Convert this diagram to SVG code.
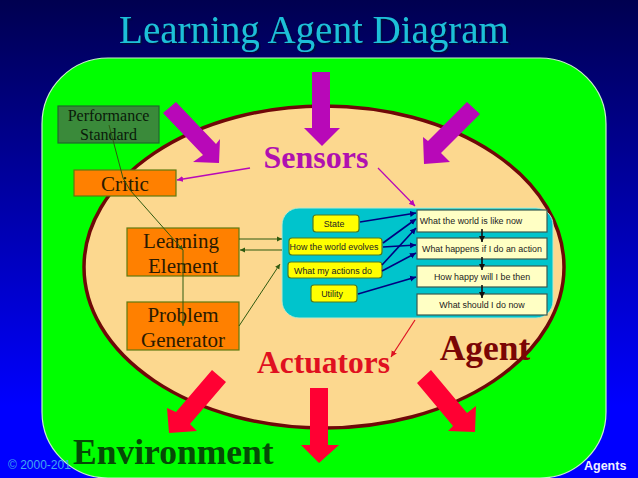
<svg xmlns="http://www.w3.org/2000/svg" width="638" height="478" viewBox="0 0 638 478">
<style>
.s{font-family:"Liberation Serif","Times New Roman",serif}
.a{font-family:"Liberation Sans",Arial,sans-serif}
.o{fill:#ff8000;stroke:#5f7a10;stroke-width:1.2}
.y{fill:#ffff00;stroke:#4f7a20;stroke-width:1.2}
.c{fill:#ffffc4;stroke:#3a5a50;stroke-width:1.2}
.t1{font-size:21px;fill:#2a1a00;text-anchor:middle}
.t2{font-size:8.9px;fill:#222;text-anchor:middle}
.g{fill:none;stroke:#2f5a10;stroke-width:1}
.n{fill:none;stroke:#000080;stroke-width:1.6}
.b{fill:none;stroke:#111;stroke-width:1.6}
.p{fill:#b808b8}
.r{fill:#ff0033}
</style>
<defs>
<linearGradient id="bg" x1="0" y1="0" x2="0" y2="1"><stop offset="0" stop-color="#000050"/><stop offset="0.85" stop-color="#0000ff"/></linearGradient>
<filter id="sh" x="-5%" y="-20%" width="110%" height="140%"><feDropShadow dx="1.500" dy="1.500" stdDeviation="0.600" flood-color="#001030" flood-opacity="0.800"/></filter>
<marker id="mg" markerWidth="6" markerHeight="6" refX="5" refY="3" orient="auto" markerUnits="userSpaceOnUse"><path d="M0,0.5L5,3L0,5.5z" fill="#2f5a10"/></marker>
<marker id="mn" markerWidth="7" markerHeight="7" refX="6" refY="3.5" orient="auto" markerUnits="userSpaceOnUse"><path d="M0,0.5L6,3.5L0,6.5z" fill="#000080"/></marker>
<marker id="mb" markerWidth="7" markerHeight="7" refX="6" refY="3.5" orient="auto" markerUnits="userSpaceOnUse"><path d="M0,0.5L6,3.5L0,6.5z" fill="#111"/></marker>
<marker id="mp" markerWidth="7" markerHeight="7" refX="6" refY="3.5" orient="auto" markerUnits="userSpaceOnUse"><path d="M0,0.5L6,3.5L0,6.5z" fill="#b808b8"/></marker>
<marker id="mr" markerWidth="7" markerHeight="7" refX="6" refY="3.5" orient="auto" markerUnits="userSpaceOnUse"><path d="M0,0.5L6,3.5L0,6.5z" fill="#dd1122"/></marker>
</defs>
<rect width="638" height="478" fill="url(#bg)"/>
<text class="s" x="314" y="42.500" font-size="39" fill="#1fc0d8" text-anchor="middle" filter="url(#sh)">Learning Agent Diagram</text>
<g id="environment">
<rect x="42" y="58" width="564" height="420" rx="66" ry="66" fill="#00ff00" stroke="#c8f0c8" stroke-width="1.200"/>
</g>
<text class="a" x="8" y="469" font-size="12" fill="#40a8f0">© 2000-201</text>
<text class="a" x="584" y="470" font-size="12.500" font-weight="bold" fill="#f0f0ff">Agents</text>
<g id="agent">
<ellipse cx="324" cy="267" rx="240" ry="161" fill="#fcd88f" stroke="#6f0808" stroke-width="3.500"/>
</g>
<g id="teal-panel"><rect x="282" y="208" width="271" height="110" rx="17" fill="#00c4cc" stroke="#bfe8c8" stroke-width="1"/></g>
<g id="performance-standard"><rect x="58" y="106" width="101" height="37" fill="#3a8a3a" stroke="#1f6a2a" stroke-width="1.200"/>
<text class="s" x="108.500" y="121" font-size="16" fill="#0a1a0a" text-anchor="middle">Performance</text><text class="s" x="108.500" y="140" font-size="16" fill="#0a1a0a" text-anchor="middle">Standard</text></g>
<g id="critic"><rect class="o" x="74" y="170" width="102" height="26"/><text class="s t1" x="125" y="191">Critic</text></g>
<g id="learning-element"><rect class="o" x="127" y="228" width="112" height="48"/><text class="s t1" x="181" y="248">Learning</text><text class="s t1" x="183" y="273">Element</text></g>
<g id="problem-generator"><rect class="o" x="127" y="302" width="112" height="48"/><text class="s t1" x="183" y="322">Problem</text><text class="s t1" x="183" y="347">Generator</text></g>
<g id="state"><rect class="y" x="313" y="215" width="46" height="17" rx="3"/><text class="a t2" x="334" y="227">State</text></g>
<g id="how-world"><rect class="y" x="289" y="238" width="93" height="17" rx="3"/><text class="a t2" x="334" y="250">How the world evolves</text></g>
<g id="my-actions"><rect class="y" x="288" y="262" width="94" height="16" rx="3"/><text class="a t2" x="333" y="274">What my actions do</text></g>
<g id="utility"><rect class="y" x="311" y="285" width="46" height="17" rx="3"/><text class="a t2" x="332" y="297">Utility</text></g>
<g id="world-now"><rect class="c" x="417" y="210" width="130" height="22"/><text class="a t2" x="471" y="224">What the world is like now</text></g>
<g id="what-happens"><rect class="c" x="417" y="238" width="130" height="21"/><text class="a t2" x="482" y="252">What happens if I do an action</text></g>
<g id="how-happy"><rect class="c" x="417" y="266" width="130" height="21"/><text class="a t2" x="482" y="280">How happy will I be then</text></g>
<g id="what-do"><rect class="c" x="417" y="294" width="130" height="21"/><text class="a t2" x="482" y="308">What should I do now</text></g>
<g id="labels">
<text class="s" x="316" y="168" font-size="32" font-weight="bold" fill="#b010b0" text-anchor="middle">Sensors</text>
<text class="s" x="323.500" y="373" font-size="31.500" font-weight="bold" fill="#e01020" text-anchor="middle">Actuators</text>
<text class="s" x="485" y="360" font-size="35.500" font-weight="bold" fill="#7a0505" text-anchor="middle">Agent</text>
<text class="s" x="73" y="464" font-size="35.500" font-weight="bold" fill="#064a06">Environment</text>
</g>
<g id="connectors">
<polygon class="p" points="163,113 176,102 216,144 220,139 219,163 193,162 203,155"/>
<polygon class="p" points="312,72 330,72 330,128 340,128 322,146 304,128 312,128"/>
<polygon class="p" points="467,102 480,114 441,153 450,162 424,164 423,137 428,141"/>
<polygon class="r" points="212,370 226,382 190,424 197,431 169,433 167,408 176,412"/>
<polygon class="r" points="310,388 328,388 328,445 339,445 319,463 301,445 310,445"/>
<polygon class="r" points="431,370 417,383 453,426 448,431 475,432 476,406 467,413"/>
<path class="g" d="M109,125L123,178L130,190L183,250" marker-end="url(#mg)"/>
<path class="g" d="M183,250V326" marker-end="url(#mg)"/>
<path class="g" d="M239,239H282" marker-end="url(#mg)"/>
<path class="g" d="M282,250H240" marker-end="url(#mg)"/>
<path class="g" d="M239,326L280,264" marker-end="url(#mg)"/>
<path d="M250,168L177,180" fill="none" stroke="#b808b8" stroke-width="1.600" marker-end="url(#mp)"/>
<path d="M378,168L415,206" fill="none" stroke="#b808b8" stroke-width="1.200" marker-end="url(#mp)"/>
<path d="M415,320L391,357" fill="none" stroke="#dd1122" stroke-width="1.200" marker-end="url(#mr)"/>
<path class="n" d="M360,222L416,213" marker-end="url(#mn)"/>
<path class="n" d="M383,243L416,219" marker-end="url(#mn)"/>
<path class="n" d="M383,247L416,245" marker-end="url(#mn)"/>
<path class="n" d="M382,265L416,228" marker-end="url(#mn)"/>
<path class="n" d="M382,271L416,253" marker-end="url(#mn)"/>
<path class="n" d="M358,294L416,277" marker-end="url(#mn)"/>
<path class="b" d="M482,229V242" marker-end="url(#mb)"/>
<path class="b" d="M482,257V270" marker-end="url(#mb)"/>
<path class="b" d="M482,285V298" marker-end="url(#mb)"/>
</g>
</svg>
